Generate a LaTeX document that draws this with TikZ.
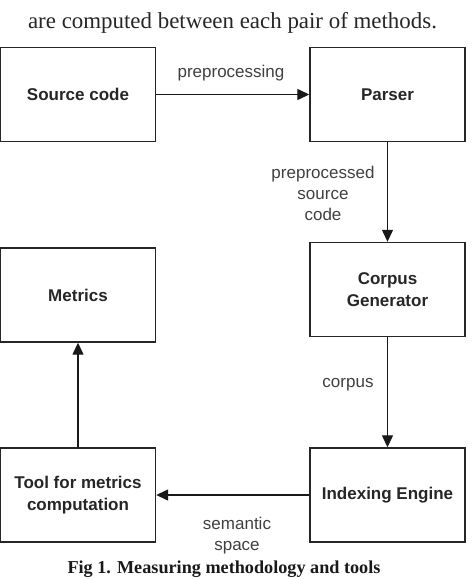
\documentclass[tikz,border=0pt]{standalone}
\usepackage{fontspec}
\setmainfont{Liberation Serif}
\newfontfamily\arialfont{Liberation Sans}
\usetikzlibrary{arrows.meta}
\begin{document}
\begin{tikzpicture}[x=1pt,y=-1pt,
  box/.style={draw=black!85, line width=1.4pt, minimum width=155pt, minimum height=94pt,
    inner sep=0pt, align=center, text=black!85,
    font=\arialfont\bfseries\fontsize{17}{22}\selectfont},
  lbl/.style={font=\arialfont\fontsize{17}{21}\selectfont, text=black!75, align=center, inner sep=0pt},
  arr/.style={line width=1.3pt, draw=black!90, -{Triangle[length=12pt,width=11pt]}}]
\useasboundingbox (0,0) rectangle (474,579);
\node[anchor=base, font=\fontsize{22.9}{26}\selectfont, text=black!85, inner sep=0pt] (top) at (232.5,28) {are computed between each pair of methods.};
\node[box] (src) at (78,94.5) {Source code};
\node[box] (parser) at (387.5,94.5) {Parser};
\node[box] (corpus) at (387.5,289.5) {Corpus\\Generator};
\node[box] (metrics) at (78,295) {Metrics};
\node[box] (tool) at (78,495) {Tool for metrics\\computation};
\node[box] (idx) at (387.5,495) {Indexing Engine};
\draw[arr] (src.east) -- (parser.west);
\draw[arr] (parser.south) -- (corpus.north);
\draw[arr] (corpus.south) -- (idx.north);
\draw[arr] (idx.west) -- (tool.east);
\draw[arr] (tool.north) -- (metrics.south);
\node[lbl] (l1) at (231,73) {preprocessing};
\node[lbl] (l2) at (323,193) {preprocessed\\source\\code};
\node[lbl] (l3) at (348,385) {corpus};
\node[lbl] (l4) at (237,536) {semantic\\space};
\node[anchor=base, font=\bfseries\fontsize{18.2}{22}\selectfont, text=black!90, inner sep=0pt] (cap) at (224,573.5) {Fig 1. Measuring methodology and tools};
\end{tikzpicture}
\end{document}
